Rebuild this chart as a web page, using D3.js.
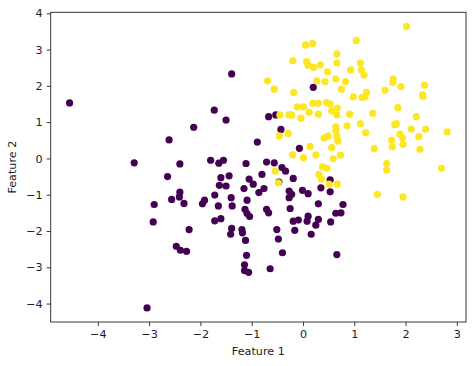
<!DOCTYPE html>
<html>
  <head>
    <meta charset="UTF-8" />
    <script src="https://d3js.org/d3.v7.min.js"></script>
    <style>
      body { margin: 0; background: #fff; }
      text { font-family: "DejaVu Sans", sans-serif; }
    </style>
  </head>
  <body>
    <svg width="474" height="366"></svg>
    <script>
      // class 0 (purple)
      const class0X = [-4.55, -1.39, -3.29, -2.61, -2.40, -2.13, -1.80, -1.73, -1.64, -1.55, -1.50, -1.11, -0.89,
        -2.64, -1.60, -1.44, -1.63, -1.50, -1.05, -0.97, -0.80, -0.86, -1.15, -1.72, -2.40, -2.41, -2.56, -2.32,
        -2.90, -1.92, -1.96, -1.40, -1.65, -1.38, -1.09, -1.13, -1.09, -1.04, -2.92, -1.72, -1.60, -2.22, -1.39,
        -1.41, -1.19, -1.18, -1.12, -2.47, -2.39, -2.27, -1.10, -1.14, -1.14, -1.06, -3.04, -0.71, -0.56, -0.41,
        -0.34, -0.76, -0.47, -0.19, -0.27, -0.22, -0.27, -0.01, 0.10, 0.35, 0.53, 0.53, -0.71, -0.67, -0.25, 0.30,
        0.78, 0.64, 0.74, -0.19, -0.09, 0.10, 0.08, 0.30, 0.25, 0.54, -0.51, -0.16, 0.16, -0.48, -0.40, 0.66,
        -0.64, 0.20, -0.53, -0.67, -0.43, -0.07]
      const class0Y = [1.53, 2.33, -0.12, 0.51, -0.15, 0.86, -0.05, 1.33, -0.13, -0.05, 1.06, -0.14, 0.45,
        -0.50, -0.53, -0.48, -0.74, -0.76, -0.57, -0.71, -0.44, -0.94, -0.83, -1.01, -0.93, -1.06, -1.13, -1.24,
        -1.27, -1.15, -1.25, -1.08, -1.31, -1.31, -1.15, -1.40, -1.52, -1.60, -1.75, -1.72, -1.66, -1.96, -1.93,
        -2.09, -1.96, -2.05, -2.26, -2.42, -2.53, -2.56, -2.67, -2.93, -3.09, -3.14, -4.12, -0.10, -0.12, -0.25,
        -0.35, -0.83, -0.65, -0.55, -0.90, -0.99, -1.08, -0.88, -0.97, -0.81, -0.59, -0.92, -1.40, -1.50, -1.38, -1.25,
        -1.27, -1.51, -1.50, -1.73, -1.70, -1.59, -1.73, -1.68, -1.84, -1.75, -1.96, -1.98, -2.09, -2.22, -2.60, -2.65,
        -3.04, 1.96, 1.20, 1.15, 0.80, 0.28]

      // class 1 (yellow)
      const class1X = [2.02, 0.05, 0.19, 1.04, 0.66, -0.20, 0.07, 0.10, 0.21, 0.34, 0.66, 1.12, 1.14, 1.19,
        0.48, 0.93, -0.69, -0.56, 0.27, 0.43, 0.64, 0.83, 0.75, -0.18, 0.98, 1.15, 1.21, 1.24, 1.60, 1.76, 1.75,
        1.91, 2.37, 2.33, 2.34, -0.11, 0.01, 0.19, 0.30, 0.46, 0.53, 0.56, 0.67, -0.04, 0.12, 0.30, 0.66, 0.91,
        1.36, 1.85, 2.21, -0.45, -0.27, -0.22, 0.64, 0.64, 0.66, 0.86, 1.12, 1.22, 1.79, 1.82, 2.11, 2.39, 2.81,
        -0.46, -0.29, 0.41, 0.49, 0.68, 1.89, 1.94, 1.95, 1.73, 1.74, 2.26, 2.28, 0.14, 0.56, 1.39, -0.20, 0.01,
        0.25, 0.59, 0.73, 0.38, 0.47, 1.63, 1.63, 2.70, -0.54, 0.31, 0.36, -0.48, 0.51, 0.67, 1.45, 1.95]
      const class1Y = [3.64, 3.13, 3.17, 3.25, 2.88, 2.69, 2.67, 2.57, 2.51, 2.58, 2.63, 2.63, 2.44, 2.30,
        2.39, 2.44, 2.14, 1.91, 2.14, 2.12, 2.19, 2.12, 1.91, 1.82, 1.70, 1.68, 1.70, 1.82, 1.88, 2.19, 2.09,
        1.98, 2.02, 1.75, 1.71, 1.42, 1.42, 1.52, 1.52, 1.54, 1.50, 1.31, 1.39, 1.11, 1.27, 1.22, 1.20, 1.22,
        1.24, 1.40, 1.15, 1.20, 1.20, 1.20, 0.87, 0.76, 0.62, 0.90, 0.96, 0.71, 0.93, 0.96, 0.81, 0.81, 0.73,
        0.62, 0.69, 0.56, 0.62, 0.48, 0.67, 0.57, 0.39, 0.50, 0.32, 0.60, 0.25, 0.33, 0.30, 0.27, 0.10, 0.02,
        0.10, -0.01, 0.09, -0.23, -0.27, -0.14, -0.32, -0.27, -0.35, -0.44, -0.57, -0.67, -0.71, -0.71, -0.99, -1.06]

      const xTicks = [-4, -3, -2, -1, 0, 1, 2, 3]
      const yTicks = [-4, -3, -2, -1, 0, 1, 2, 3, 4]
      const xLabel = "Feature 1"
      const yLabel = "Feature 2"
      const colors = ["#440154", "#fde725"]

      const svg = d3.select("svg")
      const box = { left: 50.7, right: 466, top: 12.3, bottom: 322 }

      // matplotlib style 5% padding around data
      const allX = class0X.concat(class1X)
      const allY = class0Y.concat(class1Y)
      const pad = (ext) => {
        const r = ext[1] - ext[0]
        return [ext[0] - r * 0.05, ext[1] + r * 0.05]
      }

      const x = d3.scaleLinear().domain(pad(d3.extent(allX))).range([box.left, box.right])
      const y = d3.scaleLinear().domain(pad(d3.extent(allY))).range([box.bottom, box.top])

      // points
      const points = []
      class0X.forEach((v, i) => points.push({ x: v, y: class0Y[i], c: 0 }))
      class1X.forEach((v, i) => points.push({ x: v, y: class1Y[i], c: 1 }))

      svg.append("g")
        .selectAll("circle")
        .data(points)
        .enter()
        .append("circle")
        .attr("cx", (d) => x(d.x))
        .attr("cy", (d) => y(d.y))
        .attr("r", 3.6)
        .attr("fill", (d) => colors[d.c])

      // axes
      const fmt = d3.format("d")
      const xAxis = svg.append("g")
        .attr("transform", "translate(0," + box.bottom + ")")
        .call(d3.axisBottom(x).tickValues(xTicks).tickFormat(fmt).tickSize(4).tickPadding(4).tickSizeOuter(0))
      const yAxis = svg.append("g")
        .attr("transform", "translate(" + box.left + ",0)")
        .call(d3.axisLeft(y).tickValues(yTicks).tickFormat(fmt).tickSize(4).tickPadding(4).tickSizeOuter(0))

      ;[xAxis, yAxis].forEach((a) => {
        a.select(".domain").remove()
        a.selectAll(".tick line").attr("stroke", "#222").attr("stroke-width", 0.9)
        a.selectAll(".tick text")
          .attr("fill", "#222")
          .style("font-size", "11.2px")
          .style("font-family", "'DejaVu Sans', sans-serif")
      })

      // frame
      svg.append("rect")
        .attr("x", box.left)
        .attr("y", box.top)
        .attr("width", box.right - box.left)
        .attr("height", box.bottom - box.top)
        .attr("fill", "none")
        .attr("stroke", "#222")
        .attr("stroke-width", 0.9)

      svg.append("text")
        .attr("x", (box.left + box.right) / 2)
        .attr("y", 355)
        .attr("text-anchor", "middle")
        .attr("fill", "#222")
        .style("font-size", "11.2px")
        .text(xLabel)

      svg.append("text")
        .attr("transform", "translate(16," + (box.top + box.bottom) / 2 + ") rotate(-90)")
        .attr("text-anchor", "middle")
        .attr("fill", "#222")
        .style("font-size", "11.2px")
        .text(yLabel)
    </script>
  </body>
</html>
